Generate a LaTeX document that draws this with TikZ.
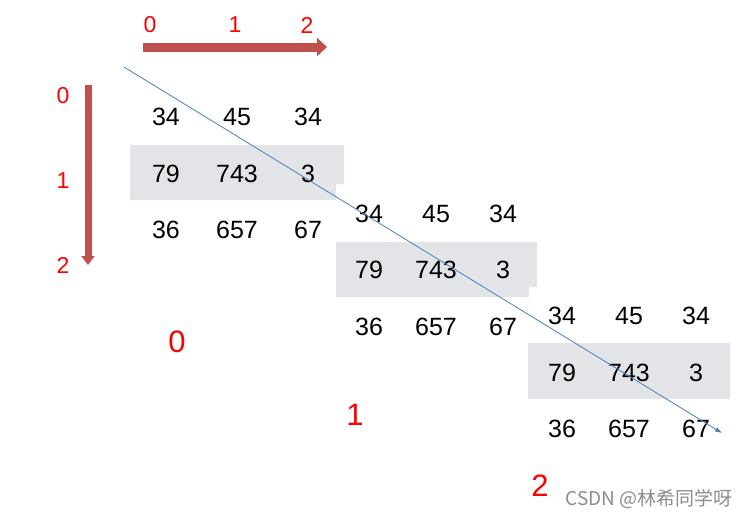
\documentclass[tikz,border=0pt]{standalone}
\usepackage{fontspec}
\setmainfont{Liberation Sans}
\newfontfamily\cjk{Noto Sans CJK SC}
\usetikzlibrary{arrows.meta}
\definecolor{arrred}{HTML}{C0504D}
\definecolor{bandgray}{HTML}{E3E4E8}
\definecolor{lineblue}{HTML}{4A7EBB}
\tikzset{
  num/.style={font=\fontsize{25}{25}\selectfont, text=black, inner sep=0pt, anchor=center},
  idx/.style={font=\fontsize{23}{23}\selectfont, text=red, inner sep=0pt, anchor=center},
  big/.style={font=\fontsize{31}{31}\selectfont, text=red, inner sep=0pt, anchor=center},
}
\begin{document}
\begin{tikzpicture}[x=1pt,y=-1pt]
\useasboundingbox (0,0) rectangle (751,517);
% gray bands
\fill[bandgray] (130,145) -- (344,145) -- (344,184) -- (336,184) -- (336,200) -- (130,200) -- cycle;
\fill[bandgray] (336,242) -- (537,242) -- (537,287) -- (529,287) -- (529,297) -- (336,297) -- cycle;
\fill[bandgray] (528,343) rectangle (730,399);
% grids
\foreach \g/\xa/\xb/\xc/\ya/\yb/\yc in {1/166/237/308/117/174/230, 2/369/436/503/214/270/327, 3/562/629/696/316/373/429}{
  \node[num] (g\g-0-0) at (\xa,\ya) {34};
  \node[num] (g\g-0-1) at (\xb,\ya) {45};
  \node[num] (g\g-0-2) at (\xc,\ya) {34};
  \node[num] (g\g-1-0) at (\xa,\yb) {79};
  \node[num] (g\g-1-1) at (\xb,\yb) {743};
  \node[num] (g\g-1-2) at (\xc,\yb) {3};
  \node[num] (g\g-2-0) at (\xa,\yc) {36};
  \node[num] (g\g-2-1) at (\xb,\yc) {657};
  \node[num] (g\g-2-2) at (\xc,\yc) {67};
}
% red arrows
\coordinate (hs) at (143,47);
\coordinate (he) at (327,47);
\draw[arrred, line width=9pt, -{Triangle[length=10pt,width=18pt]}] (hs) -- (he);
\coordinate (vs) at (88,85);
\coordinate (ve) at (88,265);
\draw[arrred, line width=7pt, -{Triangle[length=9pt,width=13pt]}] (vs) -- (ve);
\node[idx] (c0) at (150,25) {0};
\node[idx] (c1) at (235,25) {1};
\node[idx] (c2) at (307,25) {2};
\node[idx] (r0) at (63,96) {0};
\node[idx] (r1) at (63,181) {1};
\node[idx] (r2) at (63,265) {2};
% big labels
\node[big] (b0) at (177,342) {0};
\node[big] (b1) at (355,415) {1};
\node[big] (b2) at (540,486) {2};
% blue diagonal
\coordinate (ds) at (124,67);
\coordinate (de) at (722,433);
\draw[lineblue, line width=0.8pt, -{Latex[length=7pt,width=5pt]}] (ds) -- (de);
% watermark
\node[font=\cjk\fontsize{19}{19}\selectfont, text=black!45, anchor=center, inner sep=0pt] (wm) at (649,499) {CSDN @林希同学呀};
\end{tikzpicture}
\end{document}
